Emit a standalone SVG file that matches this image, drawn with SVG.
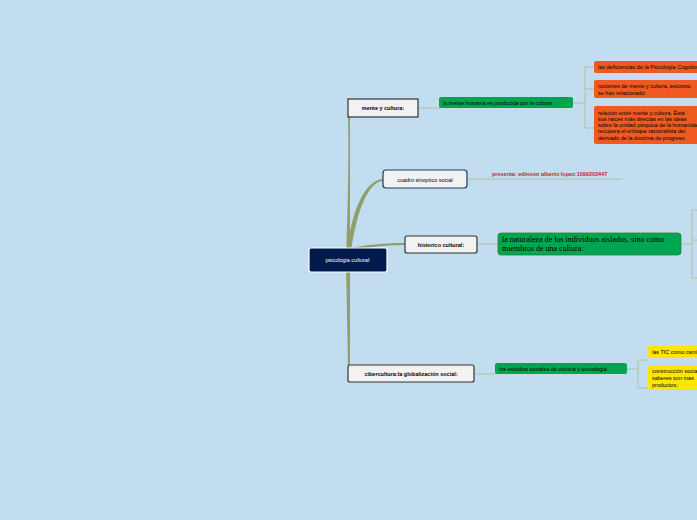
<svg xmlns="http://www.w3.org/2000/svg" width="697" height="520" viewBox="0 0 697 520">
<style>
text{font-family:"Liberation Sans",Arial,sans-serif;font-size:5.5px;}
.w{fill:#f2f2f2;stroke:#333;stroke-width:1.2}
.b{fill:#f2f2f2;stroke:#1f3864;stroke-width:1.2}
.g{fill:#00a550}
.o{fill:#f05a22}
.y{fill:#ffe600}
.ln{fill:none;stroke:#a9c4a0;stroke-width:1}
.br{fill:#8fa06a}
</style>
<rect width="697" height="520" fill="#c2ddf0"/>
<g id="connectors">
<path class="br" d="M346 260 C348 200 349 150 348 117 L350 117 C350 150 350 200 350 260Z"/>
<path class="br" d="M346 260 C347 320 348 350 348 372 L350 372 C350 350 350 320 350 260Z"/>
<path class="br" d="M347 250 C352 210 365 180 383 179 L383 181 C367 182 356 215 351 252Z"/>
<path class="br" d="M350 248 C365 245 385 243 405 243 L405 245 C385 245 365 248 350 250Z"/>
<path class="ln" d="M418 108 H440 M572 103 H585 M585 74 V128 M585 67 H594 M585 89 H594 M585 128 H594 M585 74 V67"/>
<path class="ln" d="M467 179 H622"/>
<path class="ln" d="M477 244 H499 M681 244 H692 M692 210 V278 M692 210 H697 M692 240 H697 M692 278 H697"/>
<path class="ln" d="M474 374 H496 M627 369 H638 M638 360 V388 M638 360 H648 M638 388 H648"/>
</g>
<g id="root"><rect x="309" y="248" width="78" height="24" rx="2" fill="#001a4d" stroke="#fff" stroke-width="1.2"/><text x="348" y="262" text-anchor="middle" fill="#fff">psicologia cultural:</text></g>
<g id="mente"><rect x="348" y="99" width="70" height="18" class="w"/><text x="383" y="110" text-anchor="middle" font-weight="bold">mente y  cultura:</text></g>
<g id="mente-h"><rect x="439" y="97" width="134" height="11" rx="2" class="g"/><text x="443" y="105">la mente humana es producida por la cultura:</text></g>
<g id="o1"><rect x="594" y="61" width="110" height="12" rx="2" class="o"/><text x="598" y="69">las deficiencias de la Psicología Cognitiva</text></g>
<g id="o2"><rect x="594" y="80" width="110" height="18" rx="2" class="o"/><text x="598" y="88">nociones de mente y cultura, asícomo</text><text x="598" y="95">se han relacionado:</text></g>
<g id="o3"><rect x="594" y="106" width="110" height="38" rx="2" class="o"/><text x="598" y="115">relación entre mente y cultura. Ésta</text><text x="598" y="121">sus raíces más directas en las ideas</text><text x="598" y="127">sobre la unidad psíquica de la humanidad</text><text x="598" y="133">recupera el enfoque racionalista del</text><text x="598" y="140">derivado de la  doctrina de progreso</text></g>
<g id="cuadro"><rect x="383" y="170" width="84" height="18" rx="3" class="b"/><text x="425" y="182" text-anchor="middle">cuadro sinoptico social</text></g>
<g id="presenta"><text x="492" y="176" fill="#c0282d" font-weight="bold">presenta: edinson alberto lopez:1099203447</text></g>
<g id="hist"><rect x="405" y="236" width="72" height="17" rx="2" class="w"/><text x="441" y="247" text-anchor="middle" font-weight="bold">historico  cultural:</text></g>
<g id="hist-g"><rect x="498" y="233" width="183" height="22" rx="3" class="g" stroke="#2e7d32" stroke-width="0.8"/><text x="502" y="242" style="font-family:'Liberation Serif',serif;font-size:8px">la naturaleza de los individuos aislados, sino como</text><text x="502" y="251" style="font-family:'Liberation Serif',serif;font-size:8px">miembros de  una cultura:</text></g>
<g id="ciber"><rect x="348" y="365" width="126" height="17" rx="2" class="w"/><text x="411" y="376" text-anchor="middle" font-weight="bold">cibercultura:la globalización social:</text></g>
<g id="ciber-g"><rect x="495" y="363" width="132" height="11" rx="2" class="g"/><text x="499" y="371">los  estudios sociales de ciencia y tecnologia:</text></g>
<g id="y1"><rect x="648" y="346" width="55" height="12" rx="2" class="y"/><text x="652" y="354">las TIC como cambio</text></g>
<g id="y2"><rect x="648" y="366" width="55" height="24" rx="2" class="y"/><text x="652" y="373">construcción social</text><text x="652" y="380"> saberes son mas</text><text x="652" y="387">productos;</text></g>
</svg>
